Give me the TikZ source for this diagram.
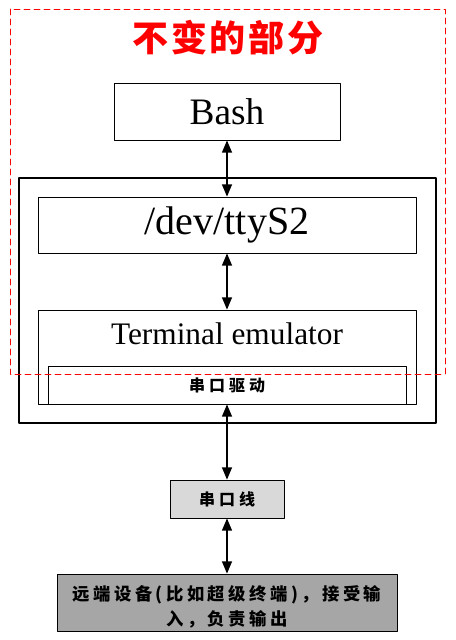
\documentclass[tikz,border=0pt]{standalone}
\usepackage{fontspec}
\setmainfont{Liberation Serif}
\newfontfamily\cjktitle[LetterSpace=8]{Noto Sans CJK SC}
\newfontfamily\cjkbox[LetterSpace=25]{Noto Sans CJK SC}
\newfontfamily\cjkremote[LetterSpace=20]{Noto Sans CJK SC}
\usepackage{tikz}
\usetikzlibrary{arrows}

\tikzset{
	box/.style={draw=black,line width=0.7pt,inner sep=0pt},
	cjklabel/.style={font=\cjkbox\bfseries\fontsize{12}{14}\selectfont},
	link/.style={<->,line width=1.1pt}
}

\begin{document}
\begin{tikzpicture}[line cap=round,line join=round,>=triangle 45,x=0.75pt,y=-0.75pt]
		\useasboundingbox (0,0) rectangle (456,640);
		\draw [line width=2.2pt,line cap=butt] (19,178) rectangle (436,423);
		\node[box,minimum width=226*0.75pt,minimum height=57*0.75pt,font=\fontsize{28}{30}\selectfont] (bash) at (227,111.5) {Bash};
		\node[box,minimum width=378*0.75pt,minimum height=56*0.75pt,font=\fontsize{30}{32}\selectfont] (tty) at (227,225) {/dev/ttyS2};
		\node[box,minimum width=378*0.75pt,minimum height=94*0.75pt] (term) at (227,357) {};
		\node[font=\fontsize{23.5}{25}\selectfont] (termtxt) at (227,334) {Terminal emulator};
		\node[box,cjklabel,minimum width=358*0.75pt,minimum height=38*0.75pt] (drv) at (227,385) {串口驱动};
		\node[box,cjklabel,fill=black!15,minimum width=114*0.75pt,minimum height=38*0.75pt] (line) at (227,499) {串口线};
		\node[box,fill=black!35,minimum width=340*0.75pt,minimum height=57*0.75pt] (remote) at (227,602.5) {};
		\node[align=center,font=\cjkremote\bfseries\fontsize{13}{18.75}\selectfont] (remotetxt) at (227,607)
			{远端设备(比如超级终端)，接受输\\入，负责输出};
		\draw [link] (bash.south) -- (tty.north);
		\draw [link] (tty.south) -- (term.north);
		\draw [link] (term.south) -- (line.north);
		\draw [link] (line.south) -- (remote.north);
		% the part that does not change
		\draw [red,line width=0.7pt,dash pattern=on 4.5pt off 3pt] (10,9) rectangle (445,374);
		\node[text=red,font=\cjktitle\bfseries\fontsize{27}{29}\selectfont] (fixed) at (228,38) {不变的部分};
	\end{tikzpicture}
\end{document}
